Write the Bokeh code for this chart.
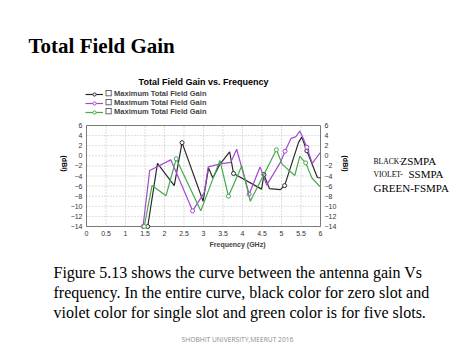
from bokeh.plotting import figure
from bokeh.models import Label, LinearAxis, FixedTicker, Legend, LegendItem, Range1d
from bokeh.embed import file_html
from bokeh.resources import INLINE

# ---- data ----
black_x = [1.57, 1.82, 2.25, 2.45, 2.99, 3.13, 3.24, 3.41, 3.67, 3.77, 4.49, 4.55, 4.69, 4.97, 5.08, 5.44, 5.52, 5.65, 5.92, 6.0]
black_y = [-14, -1.5, -5.9, 2.6, -9.0, -2.4, -4.4, -1.8, 0.8, -3.5, -6.6, -3.7, -6.5, -6.7, -5.9, 2.7, 3.7, 1.0, -4.3, -4.4]
black_markers = [0, 3, 9, 11, 14, 17]

violet_x = [1.45, 1.62, 2.16, 2.33, 2.72, 3.02, 3.12, 3.44, 3.70, 3.85, 4.17, 4.45, 4.62, 4.98, 5.09, 5.24, 5.37, 5.47, 5.56, 5.65, 5.79, 6.0]
violet_y = [-14, -2.9, -0.8, -3.8, -10.9, -7.3, -2.2, -1.6, -1.3, 1.3, -7.6, -2.2, -5.8, -1.2, 0.9, 3.4, 3.8, 4.9, 3.4, 1.7, -1.5, 0.7]
violet_markers = [0, 4, 10, 14, 19]

green_x = [1.48, 1.68, 2.04, 2.30, 2.93, 3.42, 3.64, 3.98, 4.20, 4.87, 5.02, 5.34, 5.47, 5.62, 5.78, 6.0]
green_y = [-14, -5.9, -7.9, -0.6, -10.9, -0.9, -8.0, -2.0, -9.0, 1.2, -1.7, -3.9, -0.1, -1.4, -4.4, -6.2]
green_markers = [0, 3, 6, 9, 13]

x_ticks = [0, 0.5, 1, 1.5, 2, 2.5, 3, 3.5, 4, 4.5, 5, 5.5, 6]
x_tick_labels = ["0", "0.5", "1", "1.5", "2", "2.5", "3", "3.5", "4", "4.5", "5", "5.5", "6"]
y_ticks = [6, 4, 2, 0, -2, -4, -6, -8, -10, -12, -14]

series_names = ["\u2610 Maximum Total Field Gain"] * 3
series_colors = ["#2a2a2a", "#a24bd0", "#45a84f"]

slide_title = "Total Field Gain"
chart_title = "Total Field Gain vs. Frequency"
x_label = "Frequency (GHz)"
y_label = "(dBi)"
side_notes = [("BLACK-", "ZSMPA"), ("VIOLET-", "SSMPA"), ("", "GREEN-FSMPA")]
paragraph = [
    "Figure 5.13 shows the curve between the antenna gain Vs",
    "frequency. In the entire curve, black color for zero slot and",
    "violet color for single slot and green color is for five slots.",
]
footer = "SHOBHIT UNIVERSITY,MEERUT 2016"

W, H = 474, 355
FL, FR, FT, FB = 86, 320, 125, 226  # chart frame edges in canvas px
X0, X1 = x_ticks[0], x_ticks[-1]
Y0, Y1 = min(y_ticks), max(y_ticks)

p = figure(width=W, height=H, output_backend="svg", toolbar_location=None,
           x_range=Range1d(0, W), y_range=Range1d(0, H),
           x_axis_type=None, y_axis_type=None,
           min_border=0, background_fill_color="white", border_fill_color="white")
p.outline_line_color = None
p.grid.visible = False

# chart ranges mapped onto the canvas
sx = (X1 - X0) / (FR - FL)
sy = (Y1 - Y0) / (FB - FT)
p.extra_x_ranges = {"fx": Range1d(X0 - FL * sx, X0 + (W - FL) * sx)}
p.extra_y_ranges = {"fy": Range1d(Y0 - (H - FB) * sy, Y0 + FB * sy)}
ck = dict(x_range_name="fx", y_range_name="fy")

# grid
p.segment(x0=x_ticks, x1=x_ticks, y0=[Y0] * len(x_ticks), y1=[Y1] * len(x_ticks),
          line_color="#bdbdbd", line_dash="1 2", line_width=1, **ck)
p.segment(x0=[X0] * len(y_ticks), x1=[X1] * len(y_ticks), y0=y_ticks, y1=y_ticks,
          line_color="#bdbdbd", line_dash="1 2", line_width=1, **ck)
# frame
p.quad(left=[X0], right=[X1], bottom=[Y0], top=[Y1], fill_color=None,
       line_color="#7a7a7a", line_width=1, **ck)


def mk_axis(side, loc, dim_ticks):
    ax = LinearAxis(ticker=FixedTicker(ticks=dim_ticks), fixed_location=loc, **ck)
    ax.axis_line_color = None
    ax.major_tick_line_color = None
    ax.minor_tick_line_color = None
    ax.major_tick_out = 0
    ax.major_tick_in = 0
    ax.minor_tick_out = 0
    ax.minor_tick_in = 0
    ax.major_label_text_font = "Liberation Sans"
    ax.major_label_text_font_size = "7px"
    ax.major_label_text_color = "#333333"
    ax.major_label_standoff = 4
    p.add_layout(ax, side)
    return ax


xa = mk_axis("below", Y0, x_ticks)
xa.major_label_overrides = {t: l for t, l in zip(x_ticks, x_tick_labels)}
xa.major_label_standoff = 4
xa.axis_label = x_label
xa.axis_label_text_font = "Liberation Sans"
xa.axis_label_text_font_style = "bold"
xa.axis_label_text_font_size = "7px"
xa.axis_label_standoff = 2
mk_axis("left", X0, y_ticks)
mk_axis("right", X1, y_ticks)

items = []
for xs, ys, mk, col, name in zip([black_x, violet_x, green_x], [black_y, violet_y, green_y],
                                 [black_markers, violet_markers, green_markers], series_colors, series_names):
    r1 = p.line(xs, ys, line_color=col, line_width=1.2, **ck)
    r2 = p.scatter([xs[i] for i in mk], [ys[i] for i in mk], marker="circle", size=4,
                   line_color=col, fill_color="white", line_width=1, **ck)
    items.append(LegendItem(label=name, renderers=[r1, r2]))

leg = Legend(items=items, location=(85, H - 116), orientation="vertical",
             label_text_font="Liberation Sans", label_text_font_style="bold",
             label_text_font_size="7.5px", label_height=8, glyph_height=8, glyph_width=18,
             spacing=0, padding=0, margin=0, label_standoff=2,
             background_fill_alpha=0, border_line_color=None)
p.add_layout(leg, "center")


def lab(text, cx, cy, size, font="Liberation Serif", style="normal", color="black", align="left", angle=0):
    p.add_layout(Label(x=cx, y=H - cy, text=text,
                       text_font=font, text_font_size=f"{size}px", text_font_style=style,
                       text_color=color, text_align=align, text_baseline="middle", angle=angle))


lab(slide_title, 28, 45, 21, style="bold")
lab(chart_title, 203, 81, 9, font="Liberation Sans", style="bold", align="center")
lab(y_label, 64, 163, 7, font="Liberation Sans", style="bold", align="center", angle=-1.5708)
lab(y_label, 345, 163, 7, font="Liberation Sans", style="bold", align="center", angle=-1.5708)

ys_note = [160, 173, 187]
big_x = [400, 408, 373]
for (small, big), yy, bx in zip(side_notes, ys_note, big_x):
    if small:
        lab(small, 373, yy + 1, 7.6)
    lab(big, bx, yy, 11)

for line, yy in zip(paragraph, [272, 292, 312]):
    lab(line, 53, yy, 16)

lab(footer, 237, 339, 6.7, font="Open Sans", color="#8a8a8a", align="center")

open("out.html", "w").write(file_html(p, INLINE))
